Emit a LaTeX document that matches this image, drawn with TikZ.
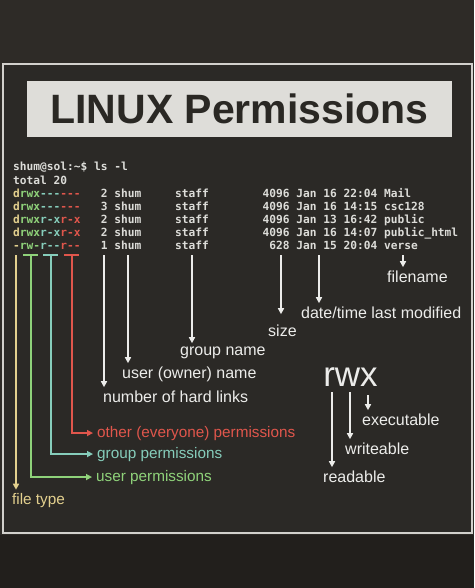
\documentclass[tikz,border=0pt]{standalone}
\usepackage{fontspec}
\setmainfont{Liberation Sans}
\setmonofont{DejaVu Sans Mono}
\usetikzlibrary{arrows.meta}
\definecolor{topbg}{HTML}{2E2B27}
\definecolor{panelbg}{HTML}{2B2926}
\definecolor{footbg}{HTML}{221F1C}
\definecolor{frame}{HTML}{D2D0CC}
\definecolor{titlebg}{HTML}{DEDDD9}
\definecolor{ink}{HTML}{2A2824}
\definecolor{term}{HTML}{DCDCD8}
\definecolor{label}{HTML}{ECECEA}
\definecolor{ftype}{HTML}{E3D08E}
\definecolor{uperm}{HTML}{8FD27A}
\definecolor{gperm}{HTML}{86CDBB}
\definecolor{operm}{HTML}{E0564C}
\newcommand{\perms}[4]{{\color{ftype}#1}{\color{uperm}#2}{\color{gperm}#3}{\color{operm}#4}}

\begin{document}
\begin{tikzpicture}[x=1pt,y=-1pt,
      listing/.style={anchor=base west,inner sep=0pt,text=term,
        font=\fontsize{11.2}{13}\selectfont\ttfamily\bfseries\frenchspacing},
      lbl/.style={anchor=base west,inner sep=0pt,text=label,
        font=\fontsize{16}{19}\selectfont},
      plbl/.style={lbl,font=\fontsize{15.3}{18}\selectfont},
      pointer/.style={draw=label,line width=1.6pt,shorten >=3pt,
        -{Triangle[length=6pt,width=6pt]}},
      perm/.style={line width=2pt,shorten >=4pt,
        -{Triangle[length=6pt,width=6pt]}}
    ]
    \useasboundingbox (0,0) rectangle (474,588);
    \fill[topbg] (0,0) rectangle (474,588);
    \fill[footbg] (0,535) rectangle (474,588);
    \fill[panelbg] (3,64) rectangle (472,533);
    \draw[frame,line width=2.5pt] (3,64) rectangle (472,533);

    \node[fill=titlebg,text=ink,minimum width=425pt,minimum height=56pt,
      font=\fontsize{41}{45}\selectfont\bfseries] (title) at (239.5,109) {LINUX Permissions};

    \node[listing] (prompt) at (13,171) {shum@sol:\textasciitilde\$ ls -l};
    \node[listing] (total) at (13,184) {total 20};
    \node[listing] (row1) at (13,197) {\perms{d}{rwx}{---}{---}~~~2~shum~~~~~staff~~~~~~~~4096~Jan~16~22:04~Mail};
    \node[listing] (row2) at (13,210) {\perms{d}{rwx}{---}{---}~~~3~shum~~~~~staff~~~~~~~~4096~Jan~16~14:15~csc128};
    \node[listing] (row3) at (13,223) {\perms{d}{rwx}{r-x}{r-x}~~~2~shum~~~~~staff~~~~~~~~4096~Jan~13~16:42~public};
    \node[listing] (row4) at (13,236) {\perms{d}{rwx}{r-x}{r-x}~~~2~shum~~~~~staff~~~~~~~~4096~Jan~16~14:07~public\_html};
    \node[listing] (row5) at (13,249) {\perms{-}{rw-}{r--}{r--}~~~1~shum~~~~~staff~~~~~~~~~628~Jan~15~20:04~verse};

    \node[lbl] (filelbl) at (387,282) {filename};
    \node[lbl] (datelbl) at (301,318) {date/time last modified};
    \node[lbl] (sizelbl) at (268,336) {size};
    \node[lbl] (grouplbl) at (180,355) {group name};
    \node[lbl] (ownerlbl) at (122,378) {user (owner) name};
    \node[lbl] (linkslbl) at (103,402) {number of hard links};

    \coordinate (filetop) at (403,255);
    \coordinate (datetop) at (319,255);
    \coordinate (sizetop) at (281,255);
    \coordinate (grouptop) at (192,255);
    \coordinate (ownertop) at (128,255);
    \coordinate (linkstop) at (104,255);
    \draw[pointer] (filetop) -- (filetop |- filelbl.north);
    \draw[pointer] (datetop) -- (datetop |- datelbl.north);
    \draw[pointer,shorten >=10pt] (sizetop) -- (sizetop |- sizelbl.north);
    \draw[pointer] (grouptop) -- (grouptop |- grouplbl.north);
    \draw[pointer] (ownertop) -- (ownertop |- ownerlbl.north);
    \draw[pointer] (linkstop) -- (linkstop |- linkslbl.north);

    \node[plbl,text=operm] (otherpl) at (97,437) {other (everyone) permissions};
    \node[plbl,text=gperm] (grouppl) at (97,458) {group permissions};
    \node[plbl,text=uperm] (userpl) at (96,481) {user permissions};
    \node[plbl,text=ftype] (typepl) at (12,504) {file type};

    \coordinate (typetop) at (16,255);
    \coordinate (usertop) at (31,255);
    \coordinate (grptop) at (51,255);
    \coordinate (othertop) at (72,255);
    \draw[perm,color=ftype,shorten >=3pt] (typetop) -- (typetop |- typepl.north);
    \draw[perm,color=uperm] (usertop) |- (userpl.west);
    \draw[perm,color=gperm] (grptop) |- (grouppl.west);
    \draw[perm,color=operm] (othertop) |- (otherpl.west);
    \draw[line width=2pt,uperm] ([xshift=-8pt]usertop) -- ([xshift=7pt]usertop);
    \draw[line width=2pt,gperm] ([xshift=-8pt]grptop) -- ([xshift=7pt]grptop);
    \draw[line width=2pt,operm] ([xshift=-8pt]othertop) -- ([xshift=7pt]othertop);

    \node[inner sep=0pt,text=label,font=\fontsize{35}{40}\selectfont] (rwx) at (350.5,377.5) {rwx};
    \node[lbl] (xlbl) at (362,425) {executable};
    \node[lbl] (wlbl) at (345,454) {writeable};
    \node[lbl] (rlbl) at (323,482) {readable};
    \coordinate (xfoot) at (368,395);
    \coordinate (wfoot) at (350,392);
    \coordinate (rfoot) at (332,392);
    \draw[pointer] (xfoot) -- (xfoot |- xlbl.north);
    \draw[pointer] (wfoot) -- (wfoot |- wlbl.north);
    \draw[pointer] (rfoot) -- (rfoot |- rlbl.north);
  \end{tikzpicture}
\end{document}
